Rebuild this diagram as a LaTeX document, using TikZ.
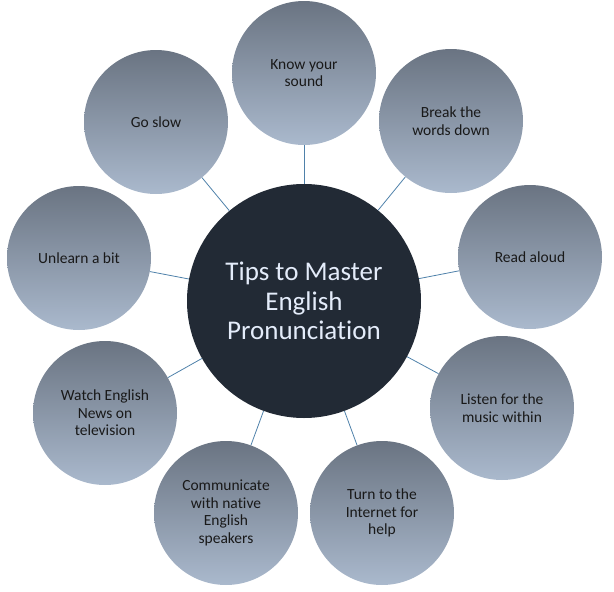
\documentclass[tikz,border=0pt]{standalone}
\usepackage{fontspec}
\setmainfont{Carlito}[Ligatures=NoCommon]
\definecolor{tiptop}{RGB}{106,116,130}
\definecolor{tipbottom}{RGB}{170,185,205}
\definecolor{hubfill}{RGB}{34,42,53}
\definecolor{hubtext}{RGB}{228,236,250}
\definecolor{linkblue}{RGB}{79,129,170}
\begin{document}
\begin{tikzpicture}[x=1pt,y=-1pt]

    \tikzset{tipstyle/.style={shape=circle,minimum size=144pt,inner sep=0pt,top color=tiptop,bottom color=tipbottom,align=center,text=black!90,font=\fontsize{15.5}{17.5}\selectfont}}
    \tikzset{hubstyle/.style={shape=circle,minimum size=234pt,inner sep=0pt,fill=hubfill,align=center,text=hubtext,font=\fontsize{27}{29.5}\selectfont}}
    \useasboundingbox (0,0) rectangle (614,592);

    \node[hubstyle] (p0) at (304,301) {Tips to Master\\English\\Pronunciation};
    \node[tipstyle] (p1) at (304,73) {Know your\\sound};
    \node[tipstyle] (p2) at (451,121) {Break the\\words down};
    \node[tipstyle] (p3) at (530,257) {Read aloud};
    \node[tipstyle] (p4) at (502,408) {Listen for the\\music within};
    \node[tipstyle] (p5) at (382,513) {Turn to the\\Internet for\\help};
    \node[tipstyle] (p6) at (226,513) {Communicate\\with native\\English\\speakers};
    \node[tipstyle] (p7) at (105,413) {Watch English\\News on\\television};
    \node[tipstyle] (p8) at (79,258) {Unlearn a bit};
    \node[tipstyle] (p9) at (156,122) {Go slow};

    \begin{scope}[every path/.style={draw=linkblue,line width=0.8pt}]
        \draw (p1) -- (p0);
        \draw (p2) -- (p0);
        \draw (p3) -- (p0);
        \draw (p4) -- (p0);
        \draw (p5) -- (p0);
        \draw (p6) -- (p0);
        \draw (p7) -- (p0);
        \draw (p8) -- (p0);
        \draw (p9) -- (p0);
    \end{scope}
\end{tikzpicture}
\end{document}
